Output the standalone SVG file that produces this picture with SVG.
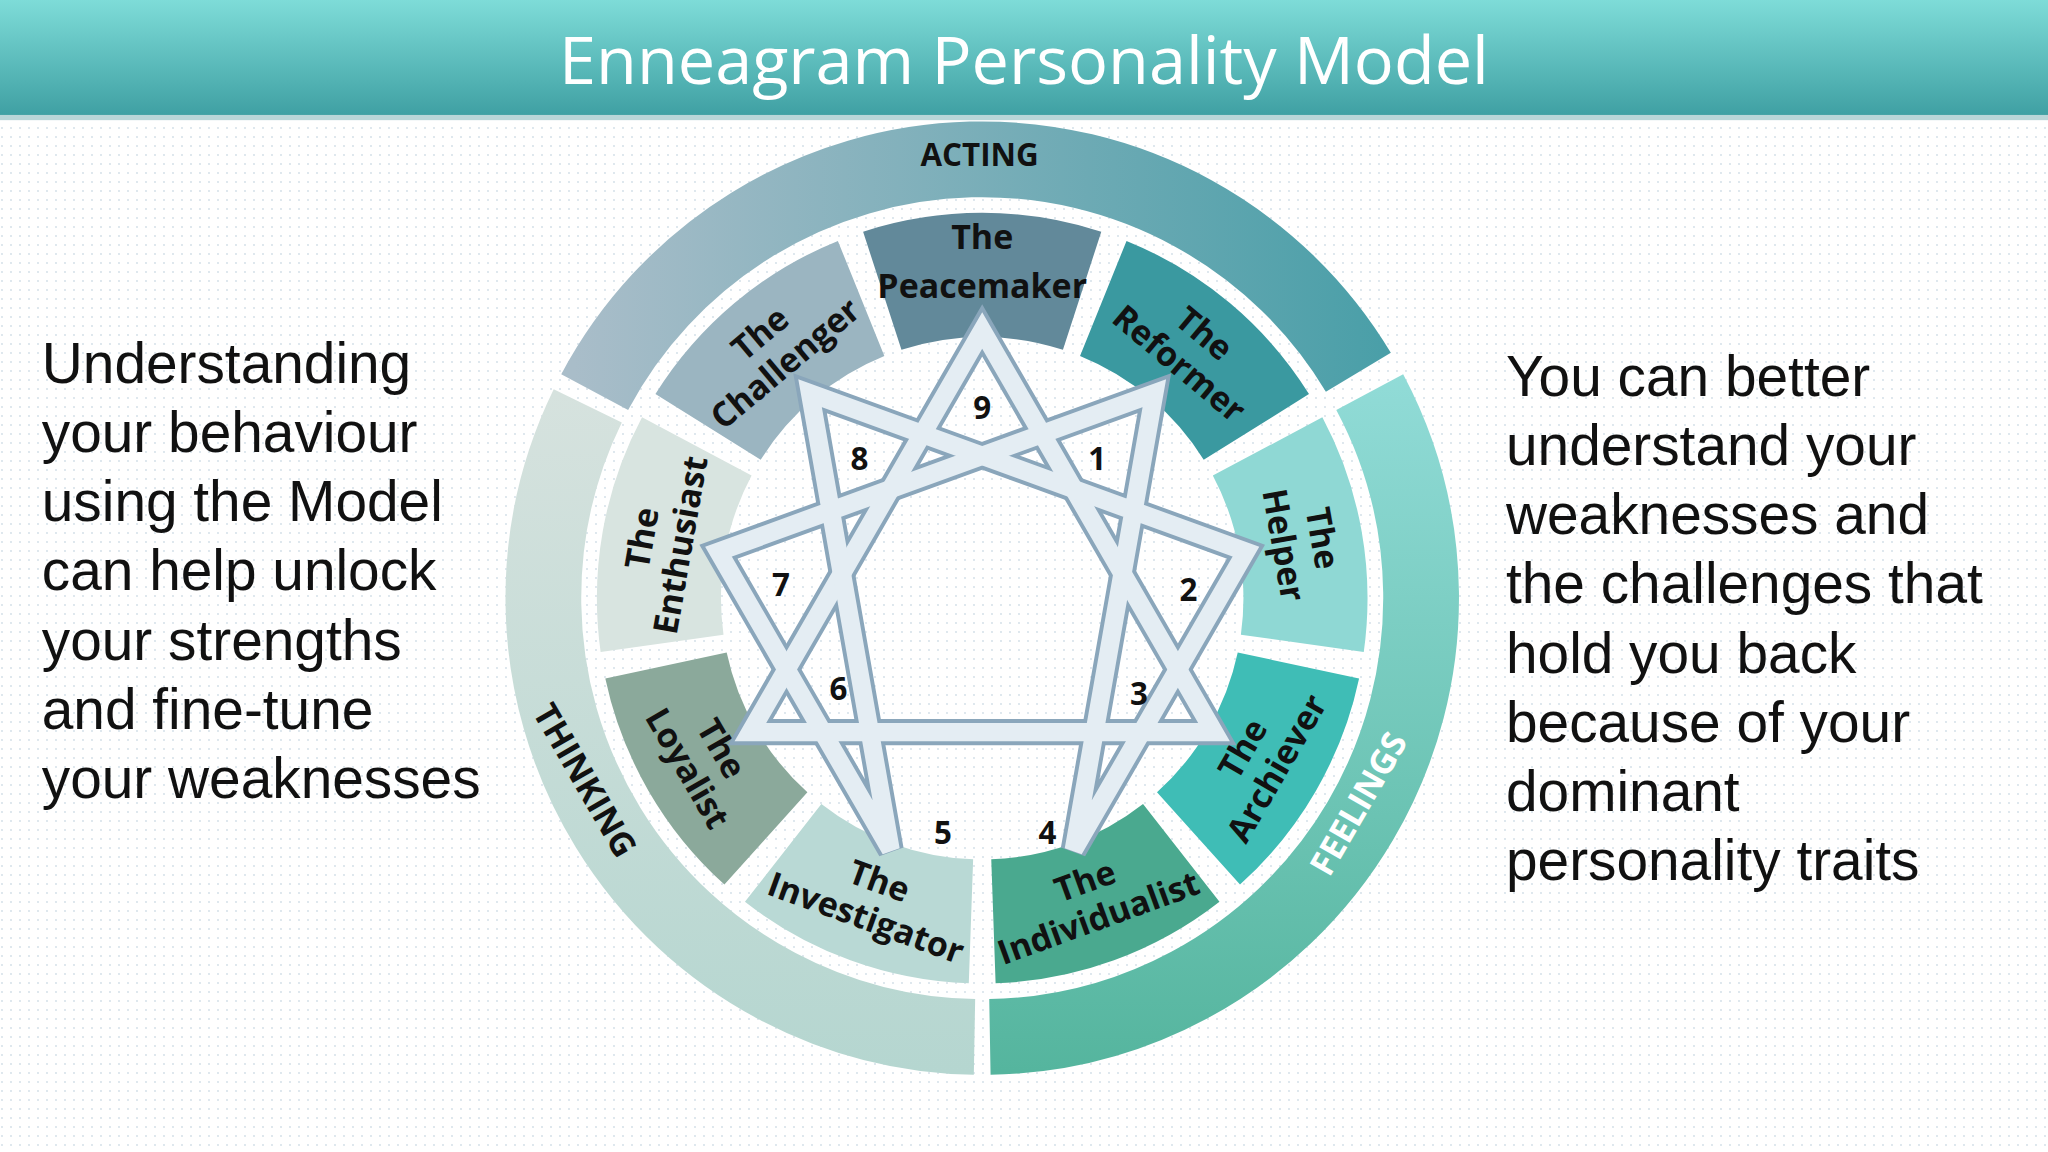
<svg xmlns="http://www.w3.org/2000/svg" width="2048" height="1152" viewBox="0 0 2048 1152">
<defs>
<pattern id="dots" width="9" height="9" patternUnits="userSpaceOnUse"><circle cx="2" cy="2" r="0.9" fill="#cfdde6"/></pattern>
<linearGradient id="tg" x1="0" y1="0" x2="0" y2="1"><stop offset="0" stop-color="#7edcd8"/><stop offset="1" stop-color="#3e9fa2"/></linearGradient>
<linearGradient id="ga" gradientUnits="userSpaceOnUse" x1="440" y1="0" x2="1060" y2="0"><stop offset="0" stop-color="#a9bdc9"/><stop offset="1" stop-color="#4a9fa8"/></linearGradient>
<linearGradient id="gf" gradientUnits="userSpaceOnUse" x1="0" y1="280" x2="0" y2="820"><stop offset="0" stop-color="#92dcd8"/><stop offset="1" stop-color="#55b59e"/></linearGradient>
<linearGradient id="gt" gradientUnits="userSpaceOnUse" x1="0" y1="300" x2="0" y2="820"><stop offset="0" stop-color="#d6e2de"/><stop offset="1" stop-color="#b5d6d0"/></linearGradient>
<style>
.seg{font-family:"Open Sans","Noto Sans",sans-serif;font-weight:bold;font-size:26px;fill:#111;text-anchor:middle}
.num{font-family:"Open Sans","Noto Sans",sans-serif;font-weight:bold;font-size:24px;fill:#111;text-anchor:middle}
.side{font-family:"Liberation Sans",Arial,sans-serif;font-size:43.5px;fill:#111}
.ring{fill:none;stroke-width:58}
.st1{fill:none;stroke:#8aa6bb;stroke-width:20;stroke-linejoin:miter}
.st2{fill:none;stroke:#e4edf3;stroke-width:14;stroke-linejoin:miter}
</style>
</defs>
<rect width="2048" height="1152" fill="#fff"/>
<rect width="2048" height="1152" fill="url(#dots)"/>
<g transform="scale(1.30612)">
<g id="title"><rect x="0" y="0" width="1568" height="90" fill="url(#tg)"/><rect x="0" y="88" width="1568" height="4" fill="#b9d6d8"/>
<text x="784" y="64" text-anchor="middle" font-family="'Open Sans','Noto Sans',sans-serif" font-size="51" fill="#fff">Enneagram Personality Model</text></g>
<g id="outer-ring">
<path class="ring" stroke="url(#ga)" d="M455.3,300.2 A336,336 0 0 1 1040,285"/>
<path class="ring" stroke="url(#gf)" d="M1048.7,300.2 A336,336 0 0 1 757.9,793.9"/>
<path class="ring" stroke="url(#gt)" d="M746.1,793.9 A336,336 0 0 1 450,310.7"/>
<text x="750" y="127" text-anchor="middle" font-family="'Open Sans','Noto Sans',sans-serif" font-weight="bold" font-size="24" fill="#111">ACTING</text>
<text transform="translate(1048,620) rotate(-60)" text-anchor="middle" font-family="'Open Sans','Noto Sans',sans-serif" font-weight="bold" font-size="26" fill="#fff">FEELINGS</text>
<text transform="translate(440,602) rotate(60)" text-anchor="middle" font-family="'Open Sans','Noto Sans',sans-serif" font-weight="bold" font-size="26" fill="#111">THINKING</text>
</g>
<g fill="none" stroke-width="95">
<g id="peacemaker"><path stroke="#62899a" d="M675.5,222.6 A247.5,247.5 0 0 1 828.5,222.6"/><text class="seg" transform="translate(752,210.5)"><tspan x="0" y="-20">The</tspan><tspan x="0" y="18">Peacemaker</tspan></text></g>
<g id="reformer"><path stroke="#3a99a0" d="M844.7,228.5 A247.5,247.5 0 0 1 961.9,326.9"/><text class="seg" transform="translate(911.1,268.4) rotate(40)"><tspan x="0" y="-8">The</tspan><tspan x="0" y="22">Reformer</tspan></text></g>
<g id="helper"><path stroke="#8fd8d4" d="M970.5,341.8 A247.5,247.5 0 0 1 997.1,492.5"/><text class="seg" transform="translate(995.7,415) rotate(80)"><tspan x="0" y="-8">The</tspan><tspan x="0" y="22">Helper</tspan></text></g>
<g id="achiever"><path stroke="#3fbdb6" d="M994.1,509.5 A247.5,247.5 0 0 1 917.6,641.9"/><text class="seg" transform="translate(966.3,581.75) rotate(-60)"><tspan x="0" y="-8">The</tspan><tspan x="0" y="22">Archiever</tspan></text></g>
<g id="individualist"><path stroke="#4aa98f" d="M904.4,653 A247.5,247.5 0 0 1 760.6,705.4"/><text class="seg" transform="translate(836.6,690.6) rotate(-20)"><tspan x="0" y="-8">The</tspan><tspan x="0" y="22">Individualist</tspan></text></g>
<g id="investigator"><path stroke="#b9d9d5" d="M743.4,705.4 A247.5,247.5 0 0 1 599.6,653"/><text class="seg" transform="translate(667.4,690.6) rotate(20)"><tspan x="0" y="-8">The</tspan><tspan x="0" y="22">Investigator</tspan></text></g>
<g id="loyalist"><path stroke="#8ba99b" d="M586.4,641.9 A247.5,247.5 0 0 1 509.9,509.5"/><text class="seg" transform="translate(537.7,581.75) rotate(60)"><tspan x="0" y="-8">The</tspan><tspan x="0" y="22">Loyalist</tspan></text></g>
<g id="enthusiast"><path stroke="#d8e4e0" d="M506.9,492.5 A247.5,247.5 0 0 1 533.5,341.8"/><text class="seg" transform="translate(508.3,415) rotate(-80)"><tspan x="0" y="-8">The</tspan><tspan x="0" y="22">Enthusiast</tspan></text></g>
<g id="challenger"><path stroke="#9bb5c1" d="M542.1,326.9 A247.5,247.5 0 0 1 659.3,228.5"/><text class="seg" transform="translate(592.9,268.4) rotate(-40)"><tspan x="0" y="-8">The</tspan><tspan x="0" y="22">Challenger</tspan></text></g>
</g>
<g id="connectors">
<path class="st1" d="M752,253 L929.5,560.5 L574.5,560.5 Z"/>
<path class="st1" d="M883.8,301 L822.1,650.6 L953.9,422.4 L620.2,301 L681.9,650.6 L550.1,422.4 Z"/>
<path class="st2" d="M752,253 L929.5,560.5 L574.5,560.5 Z"/>
<path class="st2" d="M883.8,301 L822.1,650.6 L953.9,422.4 L620.2,301 L681.9,650.6 L550.1,422.4 Z"/>
</g>
<g id="numbers">
<text class="num" x="752" y="321">9</text><text class="num" x="840" y="360">1</text><text class="num" x="910" y="460">2</text>
<text class="num" x="872" y="540">3</text><text class="num" x="802" y="646">4</text><text class="num" x="722" y="646">5</text>
<text class="num" x="642" y="536">6</text><text class="num" x="598" y="456">7</text><text class="num" x="658" y="360">8</text>
</g>
<g id="left-text"><text class="side" x="32" y="293"><tspan x="32">Understanding</tspan><tspan x="32" dy="53">your behaviour</tspan><tspan x="32" dy="53">using the Model</tspan><tspan x="32" dy="53">can help unlock</tspan><tspan x="32" dy="53">your strengths</tspan><tspan x="32" dy="53">and fine-tune</tspan><tspan x="32" dy="53">your weaknesses</tspan></text></g>
<g id="right-text"><text class="side" x="1153" y="303"><tspan x="1153">You can better</tspan><tspan x="1153" dy="53">understand your</tspan><tspan x="1153" dy="53">weaknesses and</tspan><tspan x="1153" dy="53">the challenges that</tspan><tspan x="1153" dy="53">hold you back</tspan><tspan x="1153" dy="53">because of your</tspan><tspan x="1153" dy="53">dominant</tspan><tspan x="1153" dy="53">personality traits</tspan></text></g>
</g>
</svg>
